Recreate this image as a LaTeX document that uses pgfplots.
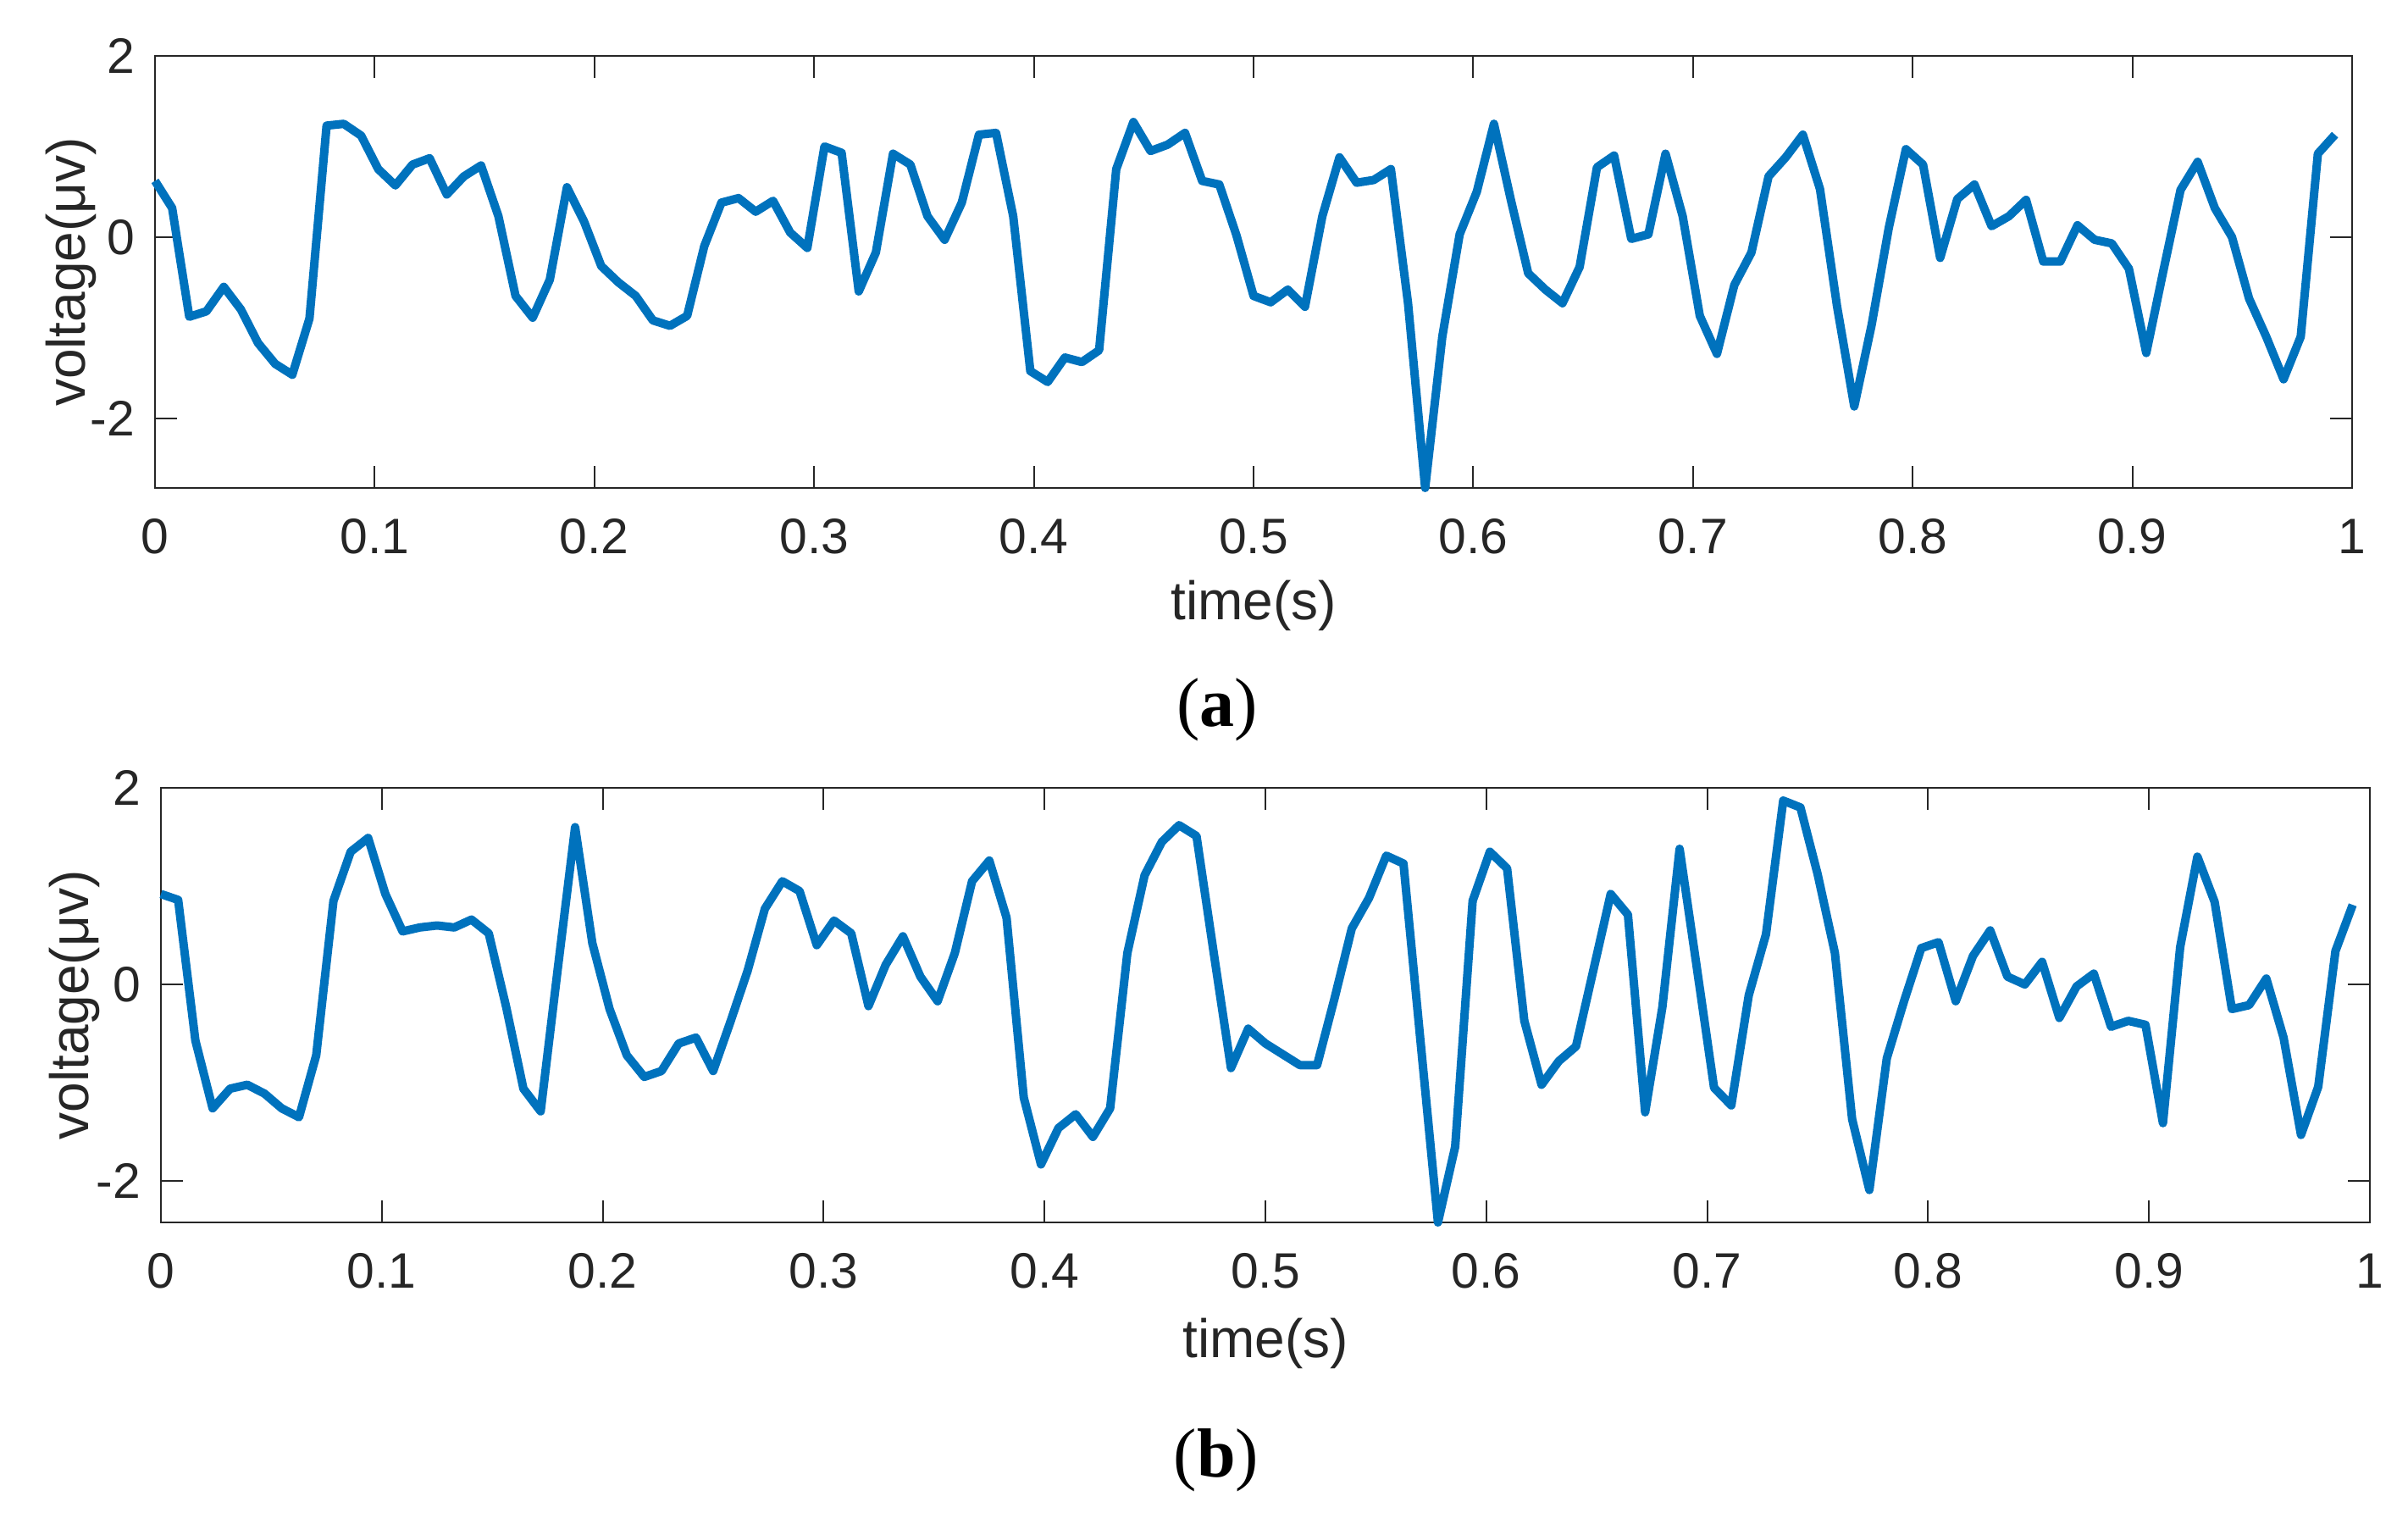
\documentclass[border=0pt]{standalone}
\usepackage{pgfplots}
\pgfplotsset{compat=1.18}
\usepackage{pgfplotstable}
\usepackage{fontspec}
\setmainfont{Liberation Sans}
\newfontfamily\serifb{Liberation Serif}
\definecolor{mblue}{HTML}{0072BD}
\definecolor{axgray}{HTML}{262626}

\pgfplotstableread{
t a b
0 0.62 0.92
0.0078 0.32 0.86
0.0156 -0.88 -0.57
0.0234 -0.82 -1.26
0.0313 -0.55 -1.06
0.0391 -0.80 -1.02
0.0469 -1.17 -1.11
0.0547 -1.40 -1.26
0.0625 -1.52 -1.35
0.0703 -0.90 -0.72
0.0781 1.23 0.85
0.0859 1.25 1.35
0.0938 1.12 1.49
0.1016 0.75 0.92
0.1094 0.57 0.54
0.1172 0.80 0.58
0.1250 0.87 0.60
0.1328 0.47 0.58
0.1406 0.67 0.66
0.1484 0.79 0.52
0.1563 0.23 -0.23
0.1641 -0.65 -1.06
0.1719 -0.89 -1.29
0.1797 -0.47 0.17
0.1875 0.55 1.60
0.1953 0.17 0.42
0.2031 -0.32 -0.25
0.2109 -0.50 -0.72
0.2188 -0.65 -0.94
0.2266 -0.92 -0.88
0.2344 -0.98 -0.60
0.2422 -0.87 -0.54
0.2500 -0.10 -0.88
0.2578 0.38 -0.38
0.2656 0.43 0.14
0.2734 0.28 0.77
0.2813 0.40 1.05
0.2891 0.05 0.95
0.2969 -0.12 0.40
0.3047 1.00 0.65
0.3125 0.93 0.52
0.3203 -0.60 -0.22
0.3281 -0.17 0.20
0.3359 0.92 0.49
0.3438 0.80 0.08
0.3516 0.23 -0.17
0.3594 -0.03 0.32
0.3672 0.38 1.05
0.3750 1.13 1.26
0.3828 1.15 0.68
0.3906 0.23 -1.15
0.3984 -1.48 -1.83
0.4063 -1.60 -1.46
0.4141 -1.33 -1.32
0.4219 -1.38 -1.55
0.4297 -1.25 -1.26
0.4375 0.75 0.32
0.4453 1.27 1.11
0.4531 0.95 1.45
0.4609 1.02 1.62
0.4688 1.15 1.51
0.4766 0.62 0.32
0.4844 0.58 -0.85
0.4922 0.02 -0.45
0.5000 -0.65 -0.60
0.5078 -0.72 -0.71
0.5156 -0.58 -0.82
0.5234 -0.77 -0.82
0.5313 0.23 -0.14
0.5391 0.88 0.57
0.5469 0.60 0.88
0.5547 0.63 1.31
0.5625 0.75 1.23
0.5703 -0.73 -0.60
0.5781 -2.77 -2.42
0.5859 -1.10 -1.65
0.5938 0.03 0.85
0.6016 0.50 1.35
0.6094 1.25 1.18
0.6172 0.40 -0.37
0.6250 -0.40 -1.02
0.6328 -0.58 -0.78
0.6406 -0.73 -0.63
0.6484 -0.33 0.14
0.6563 0.77 0.92
0.6641 0.90 0.71
0.6719 -0.02 -1.30
0.6797 0.03 -0.23
0.6875 0.92 1.38
0.6953 0.23 0.17
0.7031 -0.87 -1.05
0.7109 -1.29 -1.23
0.7188 -0.53 -0.11
0.7266 -0.17 0.51
0.7344 0.67 1.87
0.7422 0.88 1.80
0.7500 1.13 1.12
0.7578 0.53 0.32
0.7656 -0.77 -1.37
0.7734 -1.87 -2.09
0.7813 -0.97 -0.75
0.7891 0.10 -0.17
0.7969 0.97 0.37
0.8047 0.80 0.43
0.8125 -0.23 -0.17
0.8203 0.42 0.29
0.8281 0.58 0.55
0.8359 0.12 0.08
0.8438 0.23 0.00
0.8516 0.41 0.23
0.8594 -0.27 -0.34
0.8672 -0.27 -0.02
0.8750 0.13 0.11
0.8828 -0.03 -0.43
0.8906 -0.07 -0.37
0.8984 -0.35 -0.41
0.9063 -1.28 -1.41
0.9141 -0.37 0.38
0.9219 0.52 1.30
0.9297 0.83 0.84
0.9375 0.32 -0.25
0.9453 0.00 -0.21
0.9531 -0.68 0.06
0.9609 -1.10 -0.54
0.9688 -1.57 -1.53
0.9766 -1.10 -1.04
0.9844 0.92 0.34
0.9922 1.13 0.81
}\datatab

\pgfplotsset{myax/.style={
  scale only axis, anchor=south west,
  xmin=0, xmax=1, ymax=2,
  xtick={0,0.1,0.2,0.3,0.4,0.5,0.6,0.7,0.8,0.9,1},
  xticklabels={0,0.1,0.2,0.3,0.4,0.5,0.6,0.7,0.8,0.9,1},
  ytick={-2,0,2}, yticklabels={-2,0,2},
  tick align=inside, tick pos=both, major tick length=6.5pt,
  axis line style={axgray, line width=0.65pt},
  every tick/.style={axgray, line width=0.5pt},
  ticklabel style={font=\fontsize{14.7}{17}\selectfont, text=axgray},
  yticklabel style={anchor=east, inner sep=0pt, xshift=-5.75pt},
  label style={font=\fontsize{16}{19}\selectfont, text=axgray},
  xlabel={time(s)}, ylabel={voltage(μv)},
  clip=false,
}}

\begin{document}
\begin{tikzpicture}
\path[use as bounding box] (0,0) rectangle (710.75pt,449.5pt);
\begin{axis}[myax, at={(45.75pt,305.5pt)}, width=648.5pt, height=127.5pt, ymin=-2.77,
  xticklabel style={anchor=base, yshift=-19.5pt},
  xlabel style={at={([yshift=-39pt]axis description cs:0.5,0)}, anchor=base},
  ylabel style={at={([xshift=-20.75pt]axis description cs:0,0.5)}, anchor=base}]
\addplot[mblue, line width=2.5pt, line join=round] table[x=t,y=a]{\datatab};
\end{axis}
\begin{axis}[myax, at={(47.5pt,88.75pt)}, width=652pt, height=128.25pt, ymin=-2.42,
  xticklabel style={anchor=base, yshift=-19.25pt},
  xlabel style={at={([yshift=-39.75pt]axis description cs:0.5,0)}, anchor=base},
  ylabel style={at={([xshift=-21.5pt]axis description cs:0,0.5)}, anchor=base}]
\addplot[mblue, line width=2.5pt, line join=round] table[x=t,y=b]{\datatab};
\end{axis}
\node[anchor=base, font={\serifb\fontsize{20.5}{24}\selectfont}, text=black] at (359.25pt,235pt) {(\textbf{a})};
\node[anchor=base, font={\serifb\fontsize{20.5}{24}\selectfont}, text=black] at (359pt,13.75pt) {(\textbf{b})};
\end{tikzpicture}
\end{document}
